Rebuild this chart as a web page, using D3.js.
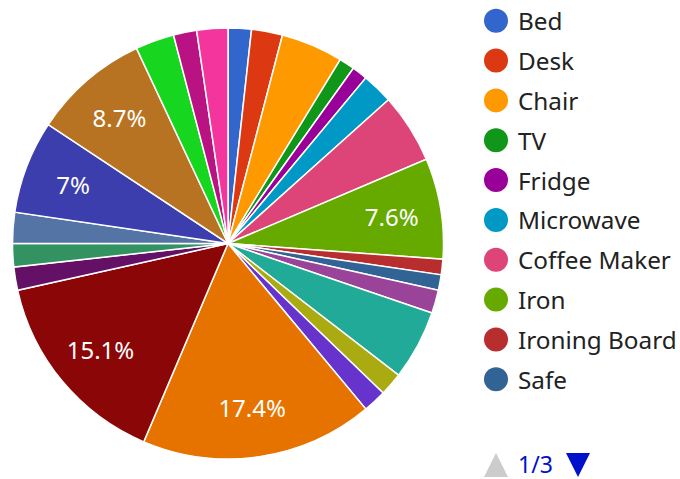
<!DOCTYPE html>
<html><head><meta charset="utf-8">
<script src="https://cdn.jsdelivr.net/npm/d3@7"></script>
<style>body{margin:0;background:#fff}svg{display:block}</style>
</head><body>
<script>
const categories = ["Bed","Desk","Chair","TV","Fridge","Microwave","Coffee Maker","Iron","Ironing Board","Safe",
  "Lamp","Curtains","Mirror","Hair Dryer","Pillow","Blanket","Towel","Kettle","Closet","Nightstand","Rug","Sofa","Telephone","Clock"];
const values = [3,4,8,2,2,4,9,13,2,2,3,9,3,3,30,26,3,3,4,12,15,5,3,4];
const colors = ["#3366cc","#dc3912","#ff9900","#109618","#990099","#0099c6","#dd4477","#66aa00","#b82e2e","#316395",
  "#994499","#22aa99","#aaaa11","#6633cc","#e67300","#8b0707","#651067","#329262","#5574a6","#3b3eac","#b77322","#16d620","#b91383","#f4359e"];
const pageSize = 10, page = 1;

const W = 680, H = 479, cx = 228, cy = 243.5, R = 215.5;
const svg = d3.select("body").append("svg").attr("width", W).attr("height", H);
const data = categories.map((c,i)=>({name:c, value:values[i], color:colors[i]}));
const total = d3.sum(values);
const pie = d3.pie().value(d=>d.value).sort(null);
const arcs = pie(data);
const arc = d3.arc().innerRadius(0).outerRadius(R);
const labelArc = d3.arc().innerRadius(R*0.77).outerRadius(R*0.77);
const g = svg.append("g").attr("transform", `translate(${cx},${cy})`);
g.selectAll("path").data(arcs).join("path")
  .attr("d", arc).attr("fill", d=>d.data.color)
  .attr("stroke", "#fff").attr("stroke-width", 1.5);
const fmt = v => { const p = Math.round(v/total*1000)/10; return (p%1===0? p.toFixed(0): p.toFixed(1)) + "%"; };
g.selectAll("text").data(arcs.filter(d=>d.data.value/total >= 0.06)).join("text")
  .attr("transform", d=>`translate(${labelArc.centroid(d)})`)
  .attr("text-anchor","middle").attr("dominant-baseline","central")
  .attr("fill","#fff").attr("font-family","'Noto Sans'").attr("font-size",24)
  .text(d=>fmt(d.data.value));

const leg = svg.append("g");
const items = data.slice((page-1)*pageSize, page*pageSize);
const ly = d3.scaleLinear().domain([0, pageSize-1]).range([20.7, 379.3]);
items.forEach((d,i)=>{
  leg.append("circle").attr("cx",496).attr("cy",ly(i)).attr("r",12).attr("fill",d.color);
  leg.append("text").attr("x",518).attr("y",ly(i)).attr("dominant-baseline","central")
    .attr("font-family","'Noto Sans'").attr("font-size",24.3).attr("fill","#222").text(d.name);
});
const pages = Math.ceil(data.length/pageSize);
const py = 465;
leg.append("path").attr("d",`M484,${py+12}L496,${py-12}L508,${py+12}Z`).attr("fill","#ccc");
leg.append("text").attr("x",518).attr("y",py+8).attr("font-family","'Noto Sans'").attr("font-size",23)
  .attr("fill","#0011cc").text(`${page}/${pages}`);
leg.append("path").attr("d",`M566,${py-12}L590,${py-12}L578,${py+12}Z`).attr("fill","#0011cc");
</script>
</body></html>
